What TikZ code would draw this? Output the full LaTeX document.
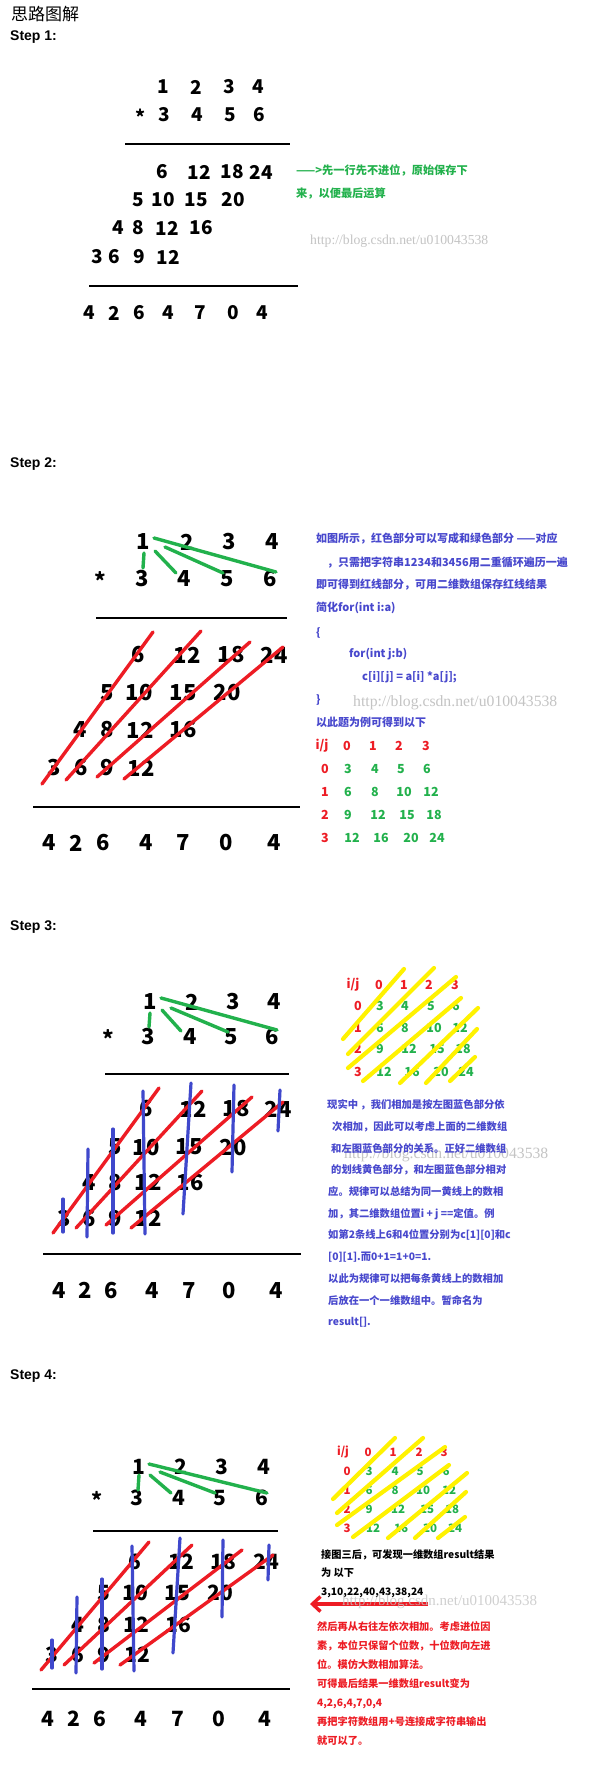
\documentclass[tikz,border=0pt]{standalone}
\usepackage{fontspec}
\setmainfont{Noto Sans CJK SC}
\newfontfamily\steplabelfont{Liberation Sans}
\newfontfamily\wmfont{Liberation Serif}
\usetikzlibrary{arrows.meta}
\definecolor{pred}{RGB}{237,28,36}
\definecolor{pgreen}{RGB}{34,177,76}
\definecolor{pblue}{RGB}{63,72,204}
\definecolor{pyellow}{RGB}{255,242,0}
\definecolor{ptext}{RGB}{72,72,205}
\definecolor{wmgray}{RGB}{196,196,196}
\tikzset{
    digit/.style={font=\bfseries\fontsize{#1}{#1}\selectfont, inner sep=0pt},
    tab/.style={font=\bfseries\fontsize{#1}{#1}\selectfont, inner sep=0pt},
    tab/.default={12.5},
    line/.style n args={2}{font=\bfseries\fontsize{#1}{#1}\selectfont, text=#2, anchor=west,
        inner sep=0pt, text height=0.86*#1 pt, text depth=0.14*#1 pt},
    steplabel/.style={font=\steplabelfont\bfseries\fontsize{14}{14}\selectfont, anchor=west, inner sep=0pt},
    wmark/.style={font=\wmfont\fontsize{#1}{#1}\selectfont, text=wmgray, anchor=west, inner sep=0pt},
    rule/.style={line width=1.6pt},
    gstroke/.style={draw=pgreen, line width=3.4pt, line cap=round},
    rstroke/.style={draw=pred, line width=3.4pt, line cap=round},
    bstroke/.style={draw=pblue, line width=3.2pt, line cap=round},
    ystroke/.style={draw=pyellow, line width=4.2pt, line cap=round}
}
\begin{document}
\begin{tikzpicture}[x=1pt, y=-1pt]
    \useasboundingbox[fill=white] (0,0) rectangle (600,1769);
    \node[anchor=west, inner sep=0pt, font=\fontsize{17}{17}\selectfont] (title) at (11,14) {思路图解};
    \foreach \y [count=\i] in {37,464,927,1376}
        \node[steplabel] (step\i) at (10,\y) {Step \i:};

    % step 1
    \foreach \t/\x [count=\i] in {1/163,2/196,3/229,4/258}
        \node[digit=19] (s1a\i) at (\x,87) {\t};
    \node[digit=19] (s1star) at (141,117) {*};
    \foreach \t/\x [count=\i] in {3/164,4/197,5/230,6/259}
        \node[digit=19] (s1b\i) at (\x,115) {\t};
    \draw[rule] (125,144) -- (290,144);
    \foreach \t/\x [count=\i] in {6/162,12/199,18/232,24/261}
        \node[digit=19] (s1p\i) at (\x,172) {\t};
    \foreach \t/\x [count=\i] in {5/138,10/163,15/196,20/233}
        \node[digit=19] (s1q\i) at (\x,200) {\t};
    \foreach \t/\x [count=\i] in {4/118,8/138,12/167,16/201}
        \node[digit=19] (s1r\i) at (\x,228) {\t};
    \foreach \t/\x [count=\i] in {3/97,6/114,9/139,12/168}
        \node[digit=19] (s1s\i) at (\x,257) {\t};
    \draw[rule] (89,286) -- (298,286);
    \foreach \t/\x [count=\i] in {4/89,2/114,6/139,4/168,7/200,0/233,4/262}
        \node[digit=19] (s1res\i) at (\x,313) {\t};
    \node[wmark=13.7] (wm1) at (310,241) {http://blog.csdn.net/u010043538};
    \node[line={11.2}{pgreen}] (note1a) at (296,170) {——>先一行先不进位，原始保存下};
    \node[line={11.2}{pgreen}] (note1b) at (296,193) {来，以便最后运算};

    % step 2
    \foreach \t/\x [count=\i] in {1/143,2/187,3/229,4/272}
        \node[digit=22] (s2a\i) at (\x,542) {\t};
    \node[digit=22] (s2star) at (100,581) {*};
    \foreach \t/\x [count=\i] in {3/142,4/184,5/227,6/270}
        \node[digit=22] (s2b\i) at (\x,579) {\t};
    \draw[rule] (96,618) -- (287,618);
    \foreach \t/\x [count=\i] in {6/138,12/187,18/231,24/274}
        \node[digit=22] (s2p\i) at (\x,655) {\t};
    \foreach \t/\x [count=\i] in {5/107,10/139,15/183,20/227}
        \node[digit=22] (s2q\i) at (\x,693) {\t};
    \foreach \t/\x [count=\i] in {4/80,8/107,12/140,16/183}
        \node[digit=22] (s2r\i) at (\x,730) {\t};
    \foreach \t/\x [count=\i] in {3/54,6/81,9/107,12/141}
        \node[digit=22] (s2s\i) at (\x,768) {\t};
    \draw[rule] (33,807) -- (300,807);
    \foreach \t/\x [count=\i] in {4/49,2/76,6/103,4/146,7/183,0/226,4/274}
        \node[digit=22] (s2res\i) at (\x,843) {\t};
    \draw[gstroke] (144,553) -- (143,568);
    \draw[gstroke] (155,551) -- (176,573);
    \draw[gstroke] (165,547) -- (223,573);
    \draw[gstroke] (154,538) -- (276,572);
    \draw[rstroke] (42,784) -- (153,632);
    \draw[rstroke] (66,780) -- (201,631);
    \draw[rstroke] (97,777) -- (250,642);
    \draw[rstroke] (124,779) -- (283,647);
    \node[wmark=15.7] (wm2) at (353,703) {http://blog.csdn.net/u010043538};
    \foreach \y/\x/\l [count=\i] in {539/316/{如图所示，红色部分可以写成和绿色部分 ——对应},
        563/327/{，只需把字符串1234和3456用二重循环遍历一遍},
        585/316/{即可得到红线部分，可用二维数组保存红线结果},
        608/316/{简化for(int i:a)}, 633/316/{\{}, 654/349/{for(int j:b)},
        677/362/{c[i][j] = a[i] *a[j];}, 700/316/{\}}, 723/316/{以此题为例可得到以下}}
        \node[line={11}{ptext}] (s2txt\i) at (\x,\y) {\l};
    \node[tab, text=pred] (s2ij) at (322,746) {i/j};
    \foreach \t/\x in {0/347,1/373,2/399,3/426}
        \node[tab, text=pred] (s2c\t) at (\x,746) {\t};
    \foreach \t/\y in {0/769,1/792,2/815,3/838}
        \node[tab, text=pred] (s2l\t) at (325,\y) {\t};
    \foreach \t/\x [count=\i] in {3/348,4/375,5/401,6/427}
        \node[tab, text=pgreen] (s2v0\i) at (\x,769) {\t};
    \foreach \t/\x [count=\i] in {6/348,8/375,10/404,12/431}
        \node[tab, text=pgreen] (s2v1\i) at (\x,792) {\t};
    \foreach \t/\x [count=\i] in {9/348,12/378,15/407,18/434}
        \node[tab, text=pgreen] (s2v2\i) at (\x,815) {\t};
    \foreach \t/\x [count=\i] in {12/352,16/381,20/411,24/437}
        \node[tab, text=pgreen] (s2v3\i) at (\x,838) {\t};

    % step 3
    \foreach \t/\x [count=\i] in {1/150,2/192,3/233,4/274}
        \node[digit=22] (s3a\i) at (\x,1002) {\t};
    \node[digit=22] (s3star) at (108,1039) {*};
    \foreach \t/\x [count=\i] in {3/148,4/190,5/231,6/272}
        \node[digit=22] (s3b\i) at (\x,1037) {\t};
    \draw[rule] (105,1074) -- (289,1074);
    \foreach \t/\x [count=\i] in {6/146,12/193,18/236,24/278}
        \node[digit=22] (s3p\i) at (\x,1109) {\t};
    \foreach \t/\x [count=\i] in {5/115,10/146,15/189,20/233}
        \node[digit=22] (s3q\i) at (\x,1147) {\t};
    \foreach \t/\x [count=\i] in {4/89,8/115,12/148,16/190}
        \node[digit=22] (s3r\i) at (\x,1182) {\t};
    \foreach \t/\x [count=\i] in {3/64,6/89,9/115,12/148}
        \node[digit=22] (s3s\i) at (\x,1218) {\t};
    \draw[rule] (43,1254) -- (301,1254);
    \foreach \t/\x [count=\i] in {4/59,2/85,6/111,4/152,7/189,0/229,4/276}
        \node[digit=22] (s3res\i) at (\x,1290) {\t};
    \draw[gstroke] (150,1013) -- (149,1027);
    \draw[gstroke] (162,1010) -- (181,1031);
    \draw[gstroke] (171,1008) -- (228,1032);
    \draw[gstroke] (161,998) -- (277,1030);
    \draw[rstroke] (53,1233) -- (159,1088);
    \draw[rstroke] (76,1228) -- (202,1091);
    \draw[rstroke] (106,1225) -- (252,1097);
    \draw[rstroke] (131,1228) -- (283,1102);
    \draw[bstroke] (63,1199) -- (63,1232);
    \draw[bstroke] (88,1149) -- (87,1237);
    \draw[bstroke] (113,1129) -- (113,1233);
    \draw[bstroke] (143,1091) -- (145,1234);
    \draw[bstroke] (191,1083) -- (183,1214);
    \draw[bstroke] (234,1085) -- (232,1172);
    \draw[bstroke] (280,1090) -- (278,1131);
    \node[tab, text=pred] (s3ij) at (353,985) {i/j};
    \foreach \t/\x in {0/379,1/404,2/429,3/455}
        \node[tab, text=pred] (s3c\t) at (\x,985) {\t};
    \foreach \t/\y in {0/1006,1/1028,2/1049,3/1072}
        \node[tab, text=pred] (s3l\t) at (358,\y) {\t};
    \foreach \t/\x [count=\i] in {3/380,4/405,5/431,6/456}
        \node[tab, text=pgreen] (s3v0\i) at (\x,1006) {\t};
    \foreach \t/\x [count=\i] in {6/380,8/405,10/434,12/460}
        \node[tab, text=pgreen] (s3v1\i) at (\x,1028) {\t};
    \foreach \t/\x [count=\i] in {9/380,12/409,15/437,18/463}
        \node[tab, text=pgreen] (s3v2\i) at (\x,1049) {\t};
    \foreach \t/\x [count=\i] in {12/384,16/412,20/441,24/466}
        \node[tab, text=pgreen] (s3v3\i) at (\x,1072) {\t};
    \draw[ystroke] (343,1039) -- (404,969);
    \draw[ystroke] (348,1054) -- (434,968);
    \draw[ystroke] (348,1068) -- (456,977);
    \draw[ystroke] (363,1081) -- (461,998);
    \draw[ystroke] (400,1083) -- (478,1008);
    \draw[ystroke] (426,1083) -- (477,1029);
    \draw[ystroke] (450,1081) -- (475,1057);
    \node[wmark=15.7] (wm3) at (344,1155) {http://blog.csdn.net/u010043538};
    \foreach \x/\l [count=\i] in {327/{现实中 ，我们相加是按左图蓝色部分依},
        332/{次相加，因此可以考虑上面的二维数组},
        331/{和左图蓝色部分的关系。正好二维数组},
        331/{的划线黄色部分，和左图蓝色部分相对},
        328/{应。规律可以总结为同一黄线上的数相},
        328/{加，其二维数组位置i + j ==定值。例},
        328/{如第2条线上6和4位置分别为c[1][0]和c},
        328/{[0][1].而0+1=1+0=1.},
        328/{以此为规律可以把每条黄线上的数相加},
        328/{后放在一个一维数组中。暂命名为},
        328/{result[].}}
        \node[line={10.3}{ptext}] (s3txt\i) at (\x,1105+21.7*\i-21.7) {\l};

    % step 4
    \foreach \t/\x [count=\i] in {1/139,2/181,3/222,4/264}
        \node[digit=21] (s4a\i) at (\x,1467) {\t};
    \node[digit=21] (s4star) at (97,1500) {*};
    \foreach \t/\x [count=\i] in {3/137,4/179,5/220,6/262}
        \node[digit=21] (s4b\i) at (\x,1498) {\t};
    \draw[rule] (93,1531) -- (278,1531);
    \foreach \t/\x [count=\i] in {6/135,12/181,18/223,24/266}
        \node[digit=21] (s4p\i) at (\x,1562) {\t};
    \foreach \t/\x [count=\i] in {5/104,10/135,15/177,20/220}
        \node[digit=21] (s4q\i) at (\x,1593) {\t};
    \foreach \t/\x [count=\i] in {4/78,8/104,12/136,16/178}
        \node[digit=21] (s4r\i) at (\x,1625) {\t};
    \foreach \t/\x [count=\i] in {3/52,6/78,9/104,12/137}
        \node[digit=21] (s4s\i) at (\x,1655) {\t};
    \draw[rule] (32,1689) -- (290,1689);
    \foreach \t/\x [count=\i] in {4/48,2/74,6/100,4/141,7/178,0/219,4/265}
        \node[digit=21] (s4res\i) at (\x,1719) {\t};
    \draw[gstroke] (139,1475) -- (138,1490);
    \draw[gstroke] (150,1475) -- (171,1493);
    \draw[gstroke] (160,1472) -- (215,1493);
    \draw[gstroke] (149,1464) -- (267,1493);
    \draw[rstroke] (41,1670) -- (149,1542);
    \draw[rstroke] (64,1665) -- (192,1545);
    \draw[rstroke] (94,1663) -- (242,1550);
    \draw[rstroke] (120,1665) -- (273,1555);
    \draw[bstroke] (52,1640) -- (52,1668);
    \draw[bstroke] (77,1597) -- (76,1673);
    \draw[bstroke] (102,1579) -- (102,1669);
    \draw[bstroke] (132,1546) -- (134,1671);
    \draw[bstroke] (180,1538) -- (173,1653);
    \draw[bstroke] (223,1540) -- (222,1617);
    \draw[bstroke] (269,1545) -- (268,1580);
    \node[tab=11.5, text=pred] (s4ij) at (343,1452) {i/j};
    \foreach \t/\x in {0/368,1/393,2/419,3/444}
        \node[tab=11.5, text=pred] (s4c\t) at (\x,1452) {\t};
    \foreach \t/\y in {0/1471,1/1490,2/1509,3/1528}
        \node[tab=11.5, text=pred] (s4l\t) at (347,\y) {\t};
    \foreach \t/\x [count=\i] in {3/369,4/395,5/420,6/446}
        \node[tab=11.5, text=pgreen] (s4v0\i) at (\x,1471) {\t};
    \foreach \t/\x [count=\i] in {6/369,8/395,10/423,12/449}
        \node[tab=11.5, text=pgreen] (s4v1\i) at (\x,1490) {\t};
    \foreach \t/\x [count=\i] in {9/369,12/398,15/427,18/452}
        \node[tab=11.5, text=pgreen] (s4v2\i) at (\x,1509) {\t};
    \foreach \t/\x [count=\i] in {12/373,16/401,20/430,24/455}
        \node[tab=11.5, text=pgreen] (s4v3\i) at (\x,1528) {\t};
    \draw[ystroke] (333,1499) -- (395,1438);
    \draw[ystroke] (337,1513) -- (423,1438);
    \draw[ystroke] (337,1525) -- (445,1447);
    \draw[ystroke] (353,1537) -- (449,1465);
    \draw[ystroke] (388,1538) -- (467,1473);
    \draw[ystroke] (415,1538) -- (466,1492);
    \draw[ystroke] (438,1538) -- (465,1517);
    \node[line={10.2}{black}] (s4txt1) at (321,1555) {接图三后，可发现一维数组result结果};
    \node[line={10.2}{black}] (s4txt2) at (321,1573) {为 以下};
    \node[line={10.2}{black}] (s4txt3) at (321,1592) {3,10,22,40,43,38,24};
    \coordinate (arrS) at (428,1604);
    \coordinate (arrE) at (310,1604);
    \draw[draw=pred, line width=3.4pt, -{Straight Barb[length=8pt,width=15pt]}] (arrS) -- (arrE);
    \node[wmark=15, opacity=0.8] (wm4) at (342,1602) {http://blog.csdn.net/u010043538};
    \foreach \l [count=\i] in {然后再从右往左依次相加。考虑进位因,
        素，本位只保留个位数，十位数向左进, 位。模仿大数相加算法。,
        可得最后结果一维数组result变为, {4,2,6,4,7,0,4},
        再把字符数组用+号连接成字符串输出, 就可以了。}
        \node[line={10.2}{pred}] (s4red\i) at (317,1627+19*\i-19) {\l};
\end{tikzpicture}
\end{document}
